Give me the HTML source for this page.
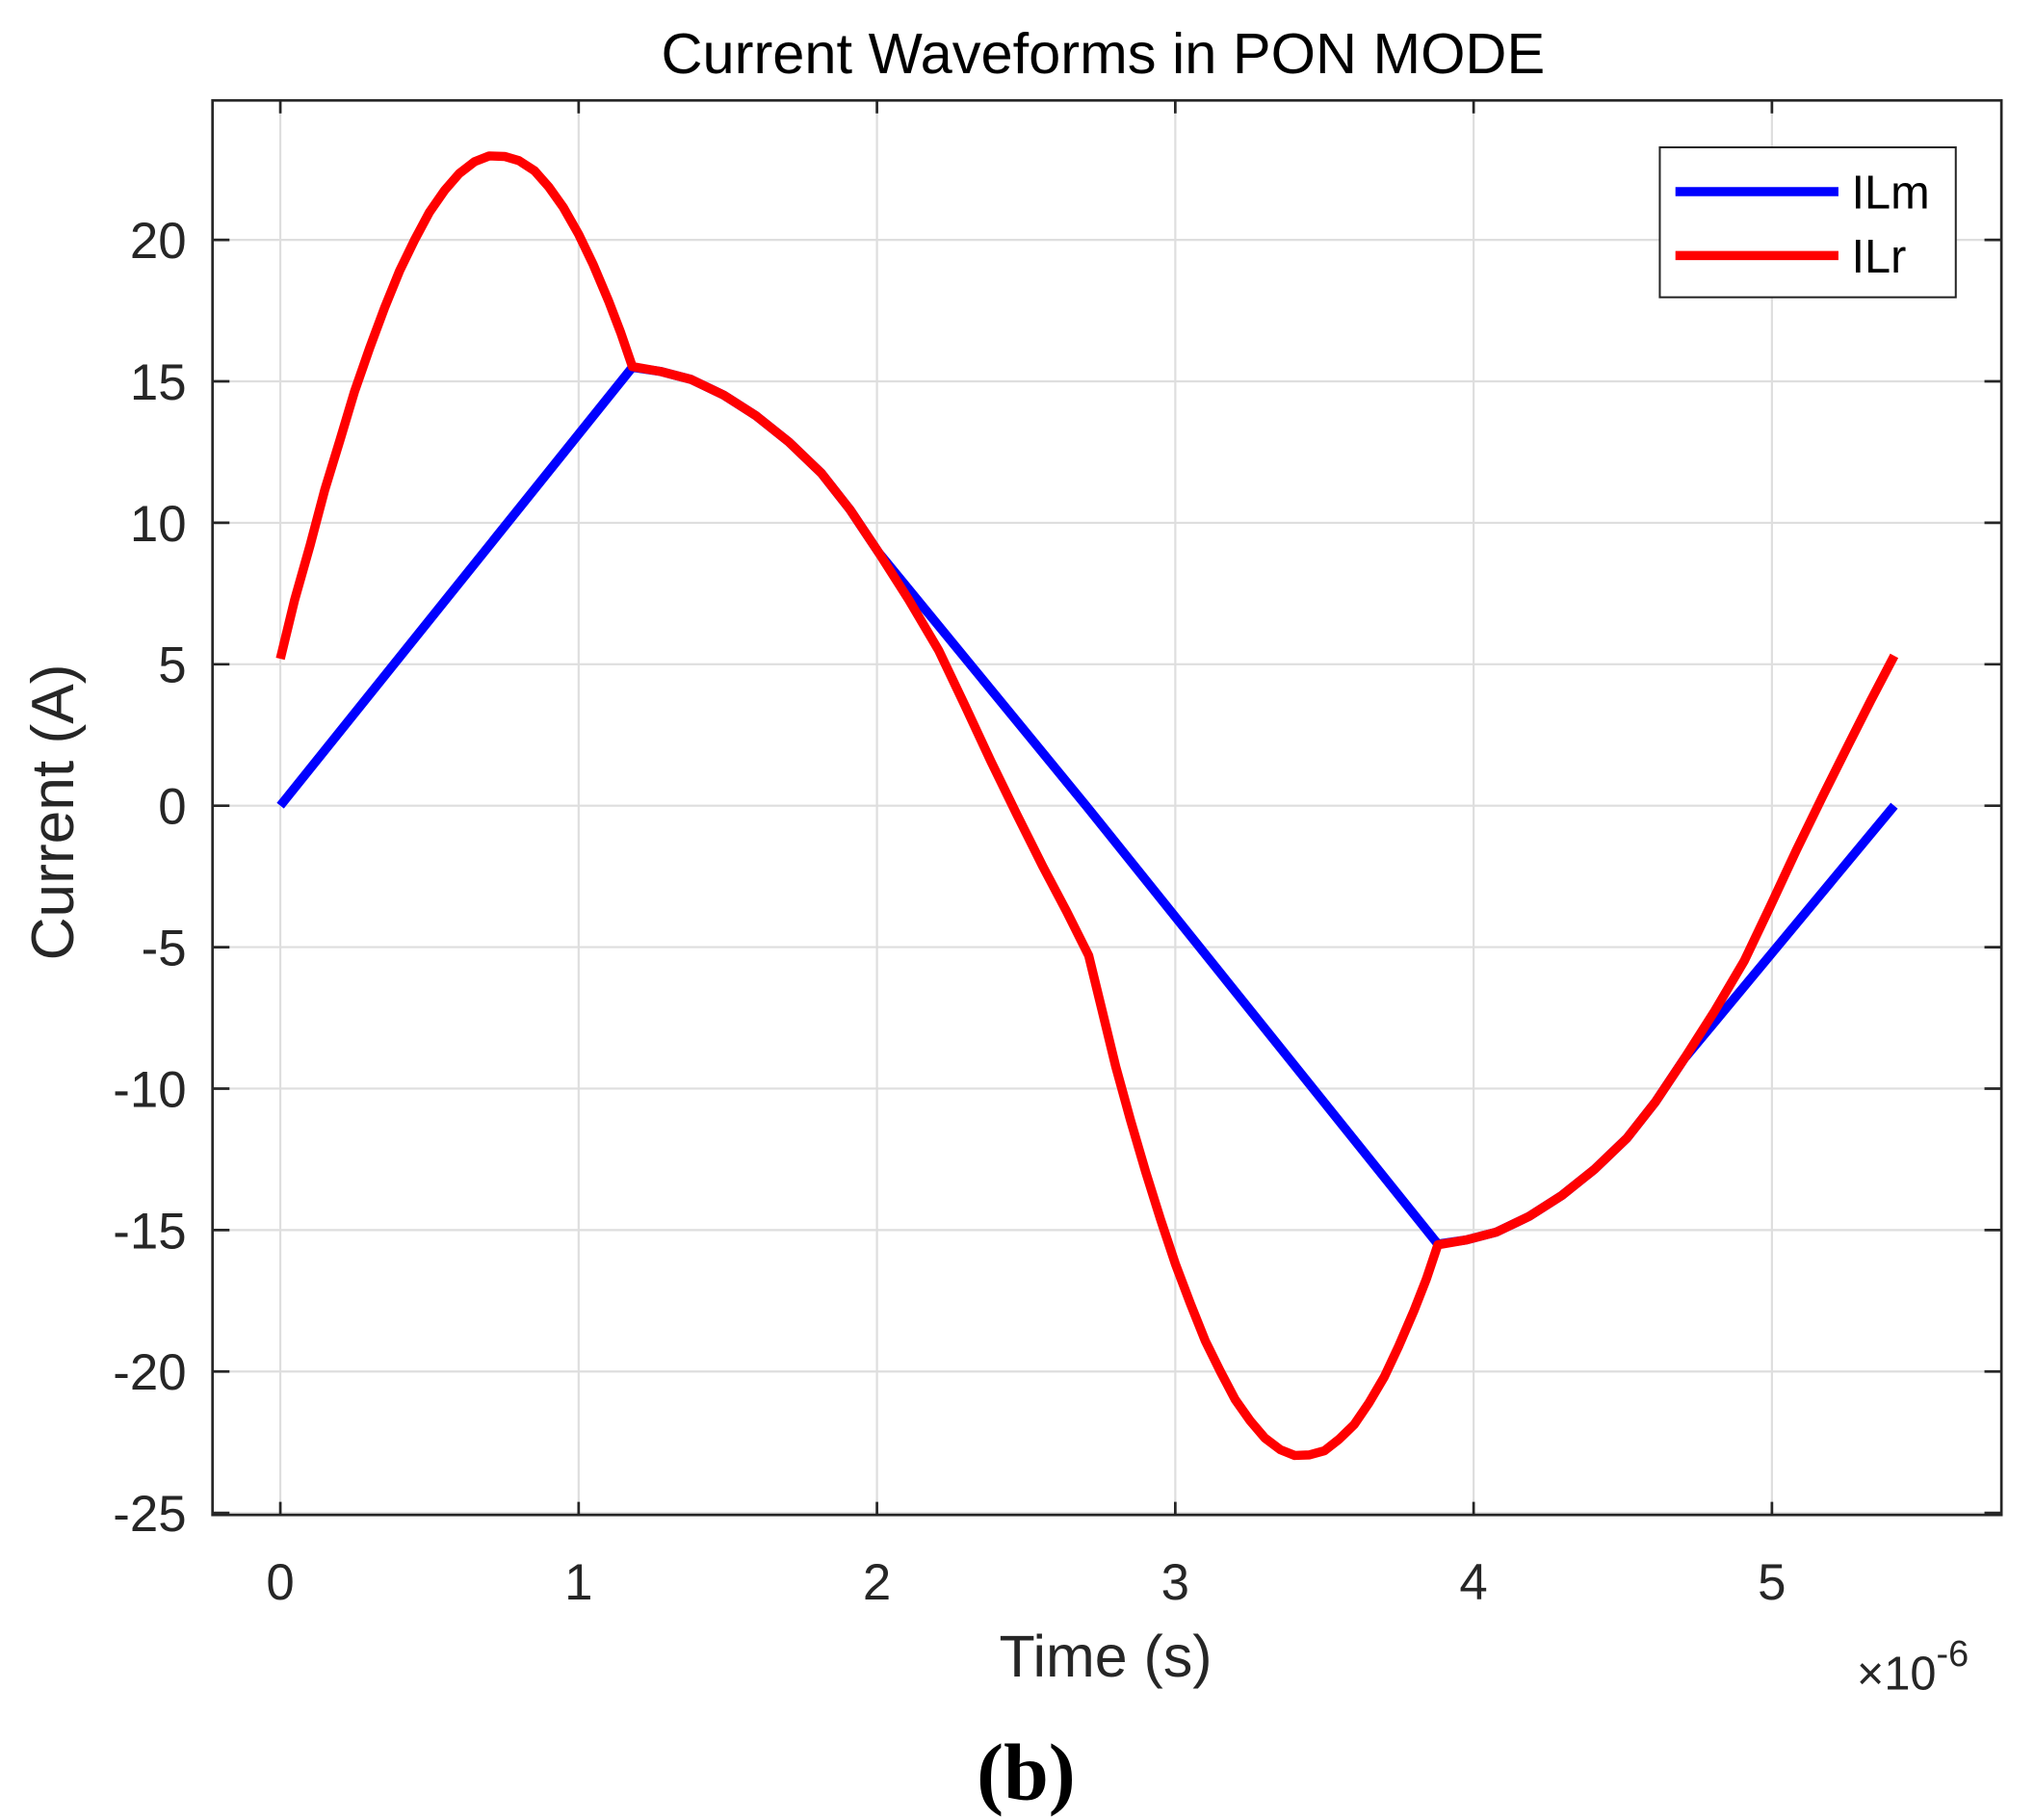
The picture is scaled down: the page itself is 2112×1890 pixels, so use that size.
<!DOCTYPE html>
<html><head><meta charset="utf-8"><style>html,body{margin:0;padding:0;background:#fff}svg{display:block}</style></head>
<body>
<svg width="2112" height="1890" viewBox="0 0 1560 1396" xmlns="http://www.w3.org/2000/svg" font-family="Liberation Sans, Arial, sans-serif">
<rect width="1560" height="1396" fill="#fff"/>
<g stroke="#dedede" stroke-width="1.6">
<line x1="215" y1="77" x2="215" y2="1162"/><line x1="443.8" y1="77" x2="443.8" y2="1162"/><line x1="672.6" y1="77" x2="672.6" y2="1162"/><line x1="901.4" y1="77" x2="901.4" y2="1162"/><line x1="1130.2" y1="77" x2="1130.2" y2="1162"/><line x1="1359" y1="77" x2="1359" y2="1162"/>
<line x1="163" y1="184" x2="1535" y2="184"/><line x1="163" y1="292.5" x2="1535" y2="292.5"/><line x1="163" y1="401" x2="1535" y2="401"/><line x1="163" y1="509.5" x2="1535" y2="509.5"/><line x1="163" y1="618" x2="1535" y2="618"/><line x1="163" y1="726.5" x2="1535" y2="726.5"/><line x1="163" y1="835" x2="1535" y2="835"/><line x1="163" y1="943.5" x2="1535" y2="943.5"/><line x1="163" y1="1052" x2="1535" y2="1052"/><line x1="163" y1="1160.5" x2="1535" y2="1160.5"/>
</g>
<g stroke="#262626" stroke-width="2">
<path d="M215 77v10M443.8 77v10M672.6 77v10M901.4 77v10M1130.2 77v10M1359 77v10M215 1162v-10M443.8 1162v-10M672.6 1162v-10M901.4 1162v-10M1130.2 1162v-10M1359 1162v-10"/>
<path d="M163 184h13M163 292.5h13M163 401h13M163 509.5h13M163 618h13M163 726.5h13M163 835h13M163 943.5h13M163 1052h13M163 1160.5h13M1535 184h-13M1535 292.5h-13M1535 401h-13M1535 509.5h-13M1535 618h-13M1535 726.5h-13M1535 835h-13M1535 943.5h-13M1535 1052h-13M1535 1160.5h-13"/>
<rect x="163" y="77" width="1372" height="1085" fill="none"/>
</g>
<polyline fill="none" stroke="#0000ff" stroke-width="7" stroke-linejoin="round" points="215,618 485,281.7 507,285 530,291 555,303 580,319 605,339 630,363 652,391 674,424 833,618 1102.8,954.3 1124.8,951 1147.8,945 1172.8,933 1197.8,917 1222.8,897 1247.8,873 1269.8,845 1291.8,812 1452.8,618"/>
<polyline fill="none" stroke="#ff0000" stroke-width="7" stroke-linejoin="round" points="215,505.3 226,460 237.9,418 249,376 260.8,337.4 272,300 283.6,266.7 295,236 306.5,207.7 318,184 329.4,162.7 341,146 352.3,133 364,124 375.2,119.6 387,120 398,123.2 410,131 420.9,143.4 432,159 443.8,179.7 455,203 466.7,230.7 476,255 485,281.2 507,285 530,291 555,303 580,319 605,339 630,363 652,391 674,424 697,460 720,499 740,541 760,584 780,625 800,665 818,699 835,733 845,774 855.7,818 867,859 878.6,898.6 890,935 901.4,969.3 913,1000 924.3,1028.3 936,1052 947.2,1073.3 959,1090 970.1,1103 982,1112 993,1116.4 1004,1116 1015.8,1112.8 1027,1104 1038.7,1092.6 1050,1076 1061.6,1056.3 1073,1032 1084.5,1005.3 1094,981 1102.8,954.8 1124.8,951 1147.8,945 1172.8,933 1197.8,917 1222.8,897 1247.8,873 1269.8,845 1291.8,812 1314.8,776 1337.8,737 1357.8,695 1377.8,652 1397.8,611 1417.8,571 1435,537 1452.8,503"/>
<rect x="1273" y="113" width="227" height="115" fill="#fff" stroke="#262626" stroke-width="1.5"/>
<line x1="1285" y1="147" x2="1410" y2="147" stroke="#0000ff" stroke-width="7"/>
<line x1="1285" y1="196" x2="1410" y2="196" stroke="#ff0000" stroke-width="7"/>
<g font-size="36" fill="#000"><text x="1420" y="160">ILm</text><text x="1420" y="209">ILr</text></g>
<g font-size="39" fill="#262626" text-anchor="end">
<text x="143" y="198">20</text><text x="143" y="306.5">15</text><text x="143" y="415">10</text><text x="143" y="523.5">5</text><text x="143" y="632">0</text><text x="143" y="740.5">-5</text><text x="143" y="849">-10</text><text x="143" y="957.5">-15</text><text x="143" y="1066">-20</text><text x="143" y="1174.5">-25</text>
</g>
<g font-size="39" fill="#262626" text-anchor="middle">
<text x="215" y="1227">0</text><text x="443.8" y="1227">1</text><text x="672.6" y="1227">2</text><text x="901.4" y="1227">3</text><text x="1130.2" y="1227">4</text><text x="1359" y="1227">5</text>
</g>
<text x="848" y="1286" font-size="45" fill="#262626" text-anchor="middle">Time (s)</text>
<text transform="translate(56,623) rotate(-90)" font-size="46" fill="#262626" text-anchor="middle">Current (A)</text>
<text x="1424" y="1296" font-size="36" fill="#262626">×10<tspan font-size="28" dy="-18">-6</tspan></text>
<text x="846" y="56" font-size="44" fill="#000" text-anchor="middle">Current Waveforms in PON MODE</text>
<text x="787" y="1380" font-size="62" font-weight="bold" font-family="Liberation Serif, serif" fill="#000" text-anchor="middle">(b)</text>
</svg>
</body></html>
